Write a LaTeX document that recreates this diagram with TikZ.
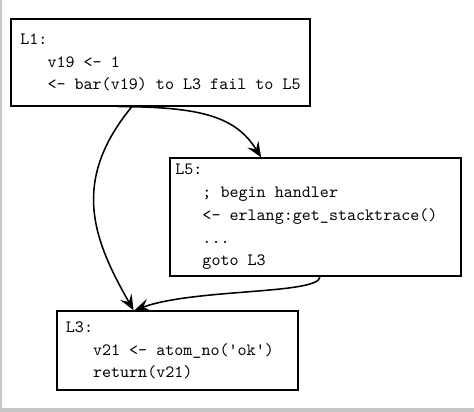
\documentclass[tikz,border=0pt]{standalone}
\usepackage{tikz}
\usetikzlibrary{arrows.meta}
\newcommand{\ind}{\hspace*{15.75pt}}
\tikzstyle{block}=[draw, line width=0.8pt, align=left, inner sep=2pt,
                   font=\ttfamily\fontsize{10}{13.2}\selectfont,
                   execute at begin node={\spaceskip=5.25pt\relax\xspaceskip=5.25pt\relax}]
\tikzstyle{flow}=[line width=0.9pt, -{Stealth[length=9pt,width=7.5pt,inset=3.5pt]}]
\tikzstyle{frame}=[fill=black!22, draw=none]

\begin{document}
\begin{tikzpicture}[x=0.5808pt, y=-0.5808pt]
    \useasboundingbox (0, 0) rectangle (474, 412);
    % Edge of the screenshot.
    \path[frame] (0, 0) rectangle (2.5, 412);
    \path[frame] (0, 408) rectangle (474, 412);

    \node[block, minimum width=173.7pt, minimum height=50.5pt] (L1) at (160.5, 62.5)
        {L1:\\ \ind v19 <- 1\\ \ind <- bar(v19) to L3 fail to L5};
    \node[block, inner xsep=3.1pt, text width=162.8pt, minimum height=68.5pt] (L5) at (315.5, 217)
        {L5:\\ \ind ; begin handler\\ \ind <- erlang:get\_stacktrace()\\ \ind ...\\ \ind goto L3};
    \node[block, inner xsep=5.2pt, text width=129.6pt, minimum height=45.9pt] (L3) at (177.5, 350.5)
        {L3:\\ \ind v21 <- atom\_no(\textquotesingle ok\textquotesingle)\\ \ind return(v21)};

    \draw[flow] ([xshift=-16.6pt]L1.south) .. controls +(-62, 75) and +(-40, -70) .. ([xshift=-25.5pt]L3.north);
    \draw[flow] ([xshift=-24.7pt]L1.south) .. controls +(85, 0) and +(-25, -40) .. ([xshift=-31.6pt]L5.north);
    \draw[flow] ([xshift=2.6pt]L5.south) .. controls +(0, 18) and +(60, -22) .. ([xshift=-25pt]L3.north);
\end{tikzpicture}
\end{document}
